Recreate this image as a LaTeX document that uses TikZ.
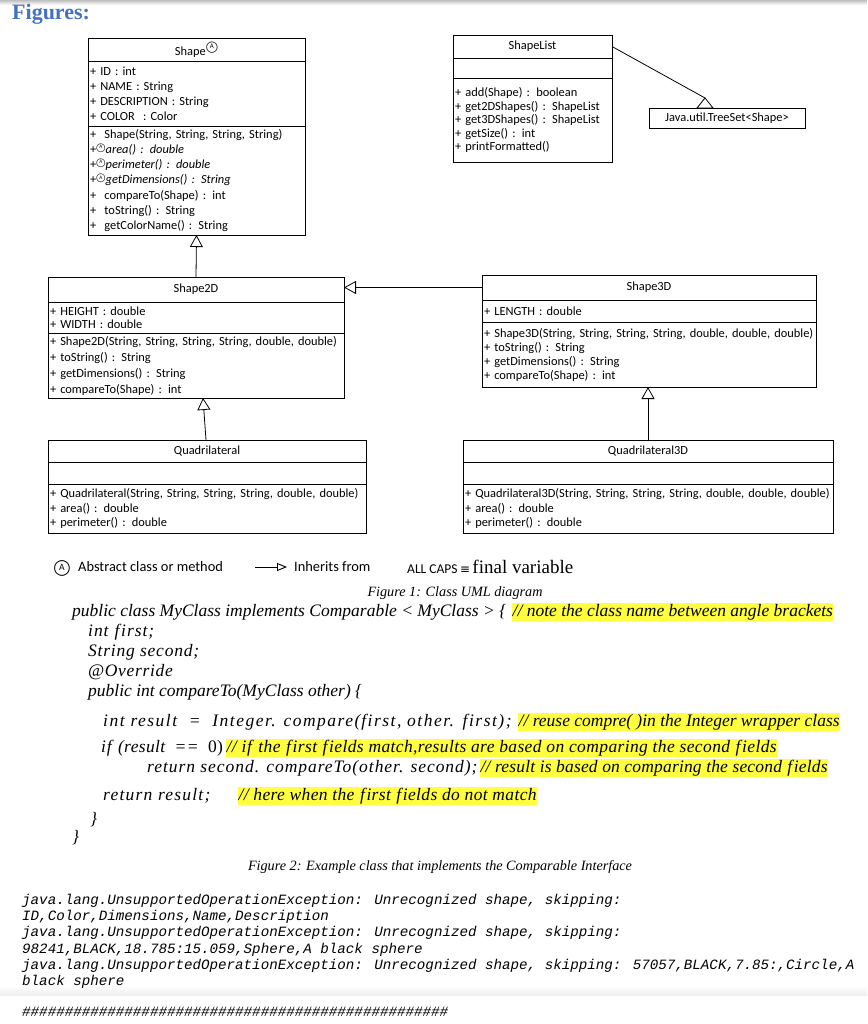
\RequirePackage{fix-cm}
\documentclass[tikz,border=0pt]{standalone}
\usepackage{graphicx}
\usepackage[no-math]{fontspec}
\setmainfont{Carlito}
\newfontfamily\umlf{Carlito}
\newfontfamily\tnr{Liberation Serif}
\newfontfamily\monof{Liberation Mono}
\newfontfamily\dvs{DejaVu Sans}
\usetikzlibrary{arrows.meta,calc}
\definecolor{figblue}{RGB}{68,114,190}
\definecolor{hlyel}{RGB}{255,255,64}
\newcommand\uml[1]{\umlf\fontsize{12.4}{#1}\selectfont}
\newcommand\circA[2]{\raisebox{#2}{\fontsize{#1}{#1}\selectfont\ooalign{{\dvs ◯}\crcr\hfil\raisebox{.17em}{\scalebox{.62}{\umlf A}}\hfil\crcr}}}
\newcommand\absA{\circA{8.5}{3.5pt}}
\newcommand\codesz{\tnr\itshape\fontsize{17.5}{20}\selectfont}
\newcommand\fk{\kern0.8pt f\kern1.6pt}
\tikzset{
  comp/.style={draw, line width=0.7pt, rectangle, anchor=north west, inner sep=0pt, outer sep=0pt, font={\uml{14}}},
  hdr/.style={comp, align=center},
  lst/.style={comp, align=left, inner xsep=2pt},
  inh/.style={line width=0.8pt, -{Triangle[open, length=12pt, width=13pt, line width=0.8pt]}},
  code/.style={anchor=west, inner sep=0pt, font=\codesz},
  hl/.style={anchor=west, inner xsep=0.5pt, inner ysep=1pt, text height=12pt, text depth=4pt, fill=hlyel, font=\codesz},
  lsp/.style={font={\codesz\addfontfeature{LetterSpace=#1}}},
  figcap/.style={font=\tnr\itshape\fontsize{14.2}{16}\selectfont, inner sep=0pt},
  lgd/.style={anchor=west, inner sep=0pt, font=\umlf\fontsize{14.4}{16}\selectfont}
}
\begin{document}
\begin{tikzpicture}[x=1pt,y=-1pt]
\useasboundingbox (0,0) rectangle (867,1024);
\fill[white] (0,0) rectangle (867,1024);
\shade[top color=black!25, bottom color=white] (0,0) rectangle (867,5);
\shade[top color=white, bottom color=black!7] (0,986) rectangle (867,995);
\node[anchor=west, inner sep=0pt, font=\tnr\bfseries\fontsize{22}{26}\selectfont, text=figblue] (fig) at (12,14) {Figures:};

% Shape
\node[hdr, minimum width=217pt, minimum height=23pt] (shH) at (88,38) {Shape\circA{11}{5pt}};
\node[lst, minimum width=217pt, text width=213pt, minimum height=65pt, font={\uml{15}}] (shA) at (shH.south west) {+ ID : int\\+ NAME : String\\+ DESCRIPTION : String\\+ COLOR \ : Color};
\node[lst, minimum width=217pt, text width=213pt, minimum height=109pt, font={\uml{15.2}}] (shM) at (shA.south west) {+ \ Shape(String, String, String, String)\\+\absA\textit{area() : double}\\+\absA\textit{perimeter() : double}\\+\absA\textit{getDimensions() : String}\\+ \ compareTo(Shape) : int\\+ \ toString() : String\\+ \ getColorName() : String};

% ShapeList
\node[hdr, minimum width=159pt, minimum height=23pt] (slH) at (453,35) {ShapeList};
\node[lst, minimum width=159pt, text width=155pt, minimum height=20pt] (slA) at (slH.south west) {};
\node[lst, minimum width=159pt, text width=155pt, minimum height=84pt, font={\uml{13.5}}] (slM) at (slA.south west) {+ add(Shape) : boolean\\+ get2DShapes() : ShapeList\\+ get3DShapes() : ShapeList\\+ getSize() : int\\+ printFormatted()};

% TreeSet
\node[hdr, minimum width=156pt, minimum height=20pt] (ts) at (649,108) {Java.util.TreeSet<Shape>};
\coordinate (tsTip) at ($(ts.north west)+(56,0)$);
\coordinate (tsApex) at ($(tsTip)+(0,-10)$);
\draw[line width=0.8pt] (slH.east) -- (tsApex);
\draw[line width=0.8pt, fill=white] ($(tsTip)+(-8,0)$) -- (tsApex) -- ($(tsTip)+(8,0)$) -- cycle;

% Shape2D
\node[hdr, minimum width=296pt, minimum height=25pt] (s2H) at (48,277) {Shape2D};
\node[lst, minimum width=296pt, text width=292pt, minimum height=31pt, font={\uml{13}}] (s2A) at (s2H.south west) {+ HEIGHT : double\\+ WIDTH : double};
\node[lst, minimum width=296pt, text width=292pt, minimum height=65pt, font={\uml{16}}] (s2M) at (s2A.south west) {+ Shape2D(String, String, String, String, double, double)\\+ toString() : String\\+ getDimensions() : String\\+ compareTo(Shape) : int};

% Shape3D
\node[hdr, minimum width=334pt, minimum height=25pt] (s3H) at (482,275) {Shape3D};
\node[lst, minimum width=334pt, text width=330pt, minimum height=22pt] (s3A) at (s3H.south west) {+ LENGTH : double};
\node[lst, minimum width=334pt, text width=330pt, minimum height=65pt, font={\uml{14}}] (s3M) at (s3A.south west) {+ Shape3D(String, String, String, String, double, double, double)\\+ toString() : String\\+ getDimensions() : String\\+ compareTo(Shape) : int};

% Quadrilateral
\node[hdr, minimum width=318pt, minimum height=22pt] (qH) at (48,440) {Quadrilateral};
\node[lst, minimum width=318pt, text width=314pt, minimum height=22pt] (qA) at (qH.south west) {};
\node[lst, minimum width=318pt, text width=314pt, minimum height=49pt, font={\uml{14.5}}] (qM) at (qA.south west) {+ Quadrilateral(String, String, String, String, double, double)\\+ area() : double\\+ perimeter() : double};

% Quadrilateral3D
\node[hdr, minimum width=370pt, minimum height=22pt] (q3H) at (463,440) {Quadrilateral3D};
\node[lst, minimum width=370pt, text width=366pt, minimum height=22pt] (q3A) at (q3H.south west) {};
\node[lst, minimum width=370pt, text width=366pt, minimum height=49pt, font={\uml{14.5}}] (q3M) at (q3A.south west) {+ Quadrilateral3D(String, String, String, String, double, double, double)\\+ area() : double\\+ perimeter() : double};

% inheritance
\draw[inh] (s2H.north) -- (shM.south);
\draw[inh] (s3H.west) -- (s3H.west -| s2H.east);
\draw[inh] ($(qH.north)+(-1,0)$) -- ($(s2M.south)+(7,0)$);
\draw[inh] (q3H.north) -- (q3H.north |- s3M.south);

% legend
\node[inner sep=0pt] (lgA) at (62,567) {\circA{15.5}{0pt}};
\node[lgd] (lgT1) at (78,567) {Abstract class or method};
\coordinate (lgS) at (255,567);
\coordinate (lgE) at (287,567);
\draw[line width=1pt, -{Triangle[open, length=10pt, width=8pt, line width=0.9pt]}] (lgS) -- (lgE);
\node[lgd] (lgT2) at (294,567) {Inherits from};
\node[lgd] (lgT3) at (407,567) {{\fontsize{13.5}{14}\selectfont ALL CAPS}\,{\dvs\fontsize{12}{14}\selectfont ≡}\,{\tnr\fontsize{19}{20}\selectfont final variable}};
\node[figcap] (cap1) at (455,593) {Figure 1: Class UML diagram};

% code
\node[code] (c1) at (72,612) {public class MyClass implements Comparable < MyClass > \{};
\node[hl] (c1c) at (512,612) {// note the class name between angle brackets};
\node[code, lsp=5.5] (c2) at (88,632) {int \fk irst;};
\node[code, lsp=4.5] (c3) at (88,652) {String second;};
\node[code, lsp=3.8] (c4) at (88,672) {@Override};
\node[code] (c5) at (88,692) {public int compareTo(MyClass other) \{};
\node[code, lsp=8.5] (c6) at (103,722) {int result \ = \ Integer. compare(\fk irst, other. \fk irst);};
\node[hl] (c6c) at (518,722) {// reuse compre( )in the Integer wrapper class};
\node[code, lsp=2] (c7) at (101,748) {i\fk\ (result \ == \ {\upshape 0)}};
\node[hl, lsp=2.2] (c7c) at (226,748) {// i\fk\ the \fk irst \fk ields match,results are based on comparing the second \fk ields};
\node[code, lsp=5.5] (c8) at (147,768) {return second. compareTo(other. second);};
\node[hl, lsp=1] (c8c) at (480,768) {// result is based on comparing the second \fk ields};
\node[code, lsp=7] (c9) at (103,796) {return result;};
\node[hl, lsp=2] (c9c) at (238,796) {// here when the \fk irst \fk ields do not match};
\node[code] (c10) at (90,820) {\}};
\node[code] (c11) at (72,838) {\}};
\node[figcap] (cap2) at (440,867) {Figure 2: Example class that implements the Comparable Interface};

% output
\node[anchor=north west, inner sep=0pt, align=left, font=\monof\itshape\fontsize{14.2}{16.2}\selectfont] (mono) at (22,894) {java.lang.UnsupportedOperationException: Unrecognized shape, skipping:\\ID,Color,Dimensions,Name,Description\\java.lang.UnsupportedOperationException: Unrecognized shape, skipping:\\98241,BLACK,18.785:15.059,Sphere,A black sphere\\java.lang.UnsupportedOperationException: Unrecognized shape, skipping: 57057,BLACK,7.85:,Circle,A\\black sphere};
\node[anchor=west, inner sep=0pt, font=\monof\itshape\fontsize{14.2}{16.2}\selectfont] (hash) at (22,1012) {\#\#\#\#\#\#\#\#\#\#\#\#\#\#\#\#\#\#\#\#\#\#\#\#\#\#\#\#\#\#\#\#\#\#\#\#\#\#\#\#\#\#\#\#\#\#\#\#\#\#};
\end{tikzpicture}
\end{document}
